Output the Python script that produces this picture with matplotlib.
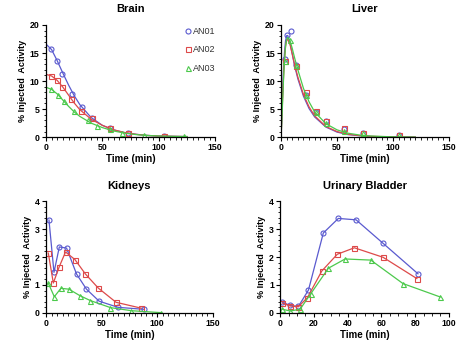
import numpy as np
import matplotlib
matplotlib.use("Agg")
import matplotlib.pyplot as plt
from matplotlib.ticker import MultipleLocator

plt.rcParams["font.family"] = ["Liberation Sans", "DejaVu Sans"]

# --- Colours / series names ---
names = ["AN01", "AN02", "AN03"]
colors = ["#5a5acf", "#dd4a4a", "#4cc94c"]
markers = ["o", "s", "^"]

# --- Brain: measured points ---
brain_t = [
    [4.4, 9.5, 14.5, 23.4, 32, 41, 57, 73, 105],
    [4.4, 9.5, 14.5, 22, 31, 41, 57, 73, 105],
    [4.4, 11, 16, 25, 37, 45, 57, 67, 87, 122],
]
brain_y = [
    [15.7, 13.5, 11.3, 7.7, 5.3, 3.5, 1.7, 0.8, 0.25],
    [10.9, 10.2, 8.9, 6.8, 4.7, 3.5, 1.6, 0.8, 0.25],
    [8.6, 7.6, 6.4, 4.6, 3.0, 2.0, 1.5, 0.7, 0.35, 0.15],
]
# Brain: fitted curves
brain_fit_t = [0, 5, 10, 15, 20, 25, 30, 40, 50, 60, 70, 80, 90, 100, 110, 125]
brain_fit_y = [
    [16.6, 15.6, 13.6, 11.4, 9.3, 7.4, 5.8, 3.5, 2.1, 1.3, 0.8, 0.5, 0.3, 0.2, 0.15, 0.1],
    [11.2, 10.9, 10.1, 8.9, 7.5, 6.1, 4.9, 3.2, 2.1, 1.3, 0.8, 0.5, 0.3, 0.2, 0.15, 0.1],
    [8.9, 8.5, 7.7, 6.6, 5.5, 4.5, 3.7, 2.5, 1.7, 1.1, 0.7, 0.45, 0.3, 0.2, 0.15, 0.1],
]

# --- Liver: measured points ---
liver_t = [
    [3.6, 5, 8.6, 13.4, 22, 31, 40, 56, 73, 105],
    [3.6, 13.4, 22, 31, 40, 56, 73, 105],
    [3.6, 8, 13.4, 22, 31, 40, 56, 73, 105],
]
liver_y = [
    [13.9, 18.2, 18.9, 12.9, 7.6, 4.5, 2.9, 1.5, 0.8, 0.3],
    [13.5, 12.7, 8.1, 4.6, 2.9, 1.7, 0.8, 0.3],
    [13.6, 17.3, 12.8, 7.5, 4.4, 2.6, 1.1, 0.7, 0.3],
]
liver_fit_t = [0, 1, 2, 3, 4, 5, 6, 8, 10, 12, 15, 20, 25, 30, 40, 50, 60, 70, 80, 100, 120]
liver_fit_y = [
    [0, 6, 11.5, 15, 17.2, 18.1, 18.1, 16.8, 14.8, 12.8, 10.4, 7.3, 5.1, 3.6, 1.8, 0.9, 0.45, 0.25, 0.12, 0.03, 0],
    [0, 5, 10, 13.8, 16.2, 17.3, 17.4, 16.5, 14.8, 13.0, 10.7, 7.6, 5.4, 3.8, 1.9, 1.0, 0.5, 0.28, 0.15, 0.04, 0],
    [0, 4.5, 9.5, 13.5, 16.2, 17.4, 17.8, 17.2, 15.8, 14.2, 12.0, 8.7, 6.3, 4.5, 2.4, 1.3, 0.7, 0.38, 0.2, 0.05, 0],
]

# --- Kidneys ---
kid_t = [
    [2.7, 7.2, 12, 18.5, 27.5, 36.4, 47.8, 64.8, 87.8],
    [2.1, 6.6, 12, 17.6, 26, 35.5, 47, 63, 85.7],
    [2.1, 7.5, 13.4, 20.6, 30.4, 40, 58, 76.7, 103.6],
]
kid_y = [
    [3.32, 1.45, 2.36, 2.32, 1.39, 0.85, 0.42, 0.2, 0.13],
    [2.14, 1.07, 1.66, 2.18, 1.91, 1.39, 0.89, 0.38, 0.17],
    [1.06, 0.58, 0.88, 0.85, 0.62, 0.44, 0.19, 0.08, 0.01],
]

# --- Urinary bladder ---
bl_t = [
    [1.4, 5.9, 10.8, 16.8, 25.6, 34.5, 45, 61, 81.7],
    [1.4, 5.9, 10.8, 16.2, 24.7, 33.9, 44, 61, 81],
    [1.4, 5.9, 11.8, 18.2, 28.6, 38.5, 53.7, 72.8, 94.9],
]
bl_y = [
    [0.38, 0.27, 0.23, 0.82, 2.86, 3.38, 3.33, 2.49, 1.40],
    [0.35, 0.25, 0.22, 0.55, 1.50, 2.10, 2.33, 1.99, 1.23],
    [0.13, 0.07, 0.13, 0.69, 1.60, 1.93, 1.89, 1.05, 0.57],
]

fig = plt.figure(figsize=(4.74, 3.42), dpi=100)
ax_brain = fig.add_axes([0.097, 0.599, 0.357, 0.328])
ax_liver = fig.add_axes([0.593, 0.599, 0.354, 0.328])
ax_kid = fig.add_axes([0.097, 0.085, 0.352, 0.327])
ax_bl = fig.add_axes([0.591, 0.085, 0.356, 0.327])

MS = 3.6
mkw = dict(markersize=MS, markerfacecolor="none", markeredgewidth=0.8, linestyle="none")


def style(ax, title, xmax, xmaj, xmin, ymax, ymaj, ymin):
    ax.set_xlim(0, xmax)
    ax.set_ylim(0, ymax)
    ax.xaxis.set_major_locator(MultipleLocator(xmaj))
    ax.xaxis.set_minor_locator(MultipleLocator(xmin))
    ax.yaxis.set_major_locator(MultipleLocator(ymaj))
    ax.yaxis.set_minor_locator(MultipleLocator(ymin))
    for s in ["top", "right"]:
        ax.spines[s].set_visible(False)
    for s in ["left", "bottom"]:
        ax.spines[s].set_linewidth(0.9)
    ax.tick_params(which="major", length=3, width=0.8, labelsize=6.3, pad=1.5)
    ax.tick_params(which="minor", length=1.8, width=0.6)
    for lab in ax.get_xticklabels() + ax.get_yticklabels():
        lab.set_fontweight("bold")
    ax.set_title(title, fontsize=8, fontweight="bold", pad=9)
    ax.set_xlabel("Time (min)", fontsize=7, fontweight="bold", labelpad=1)
    ax.set_ylabel("% Injected  Activity", fontsize=6.5, fontweight="bold", labelpad=2)


# Brain
for i in range(3):
    ax_brain.plot(brain_fit_t, brain_fit_y[i], color=colors[i], lw=0.9)
    ax_brain.plot(brain_t[i], brain_y[i], marker=markers[i], color=colors[i],
                  label=names[i], **mkw)
style(ax_brain, "Brain", 150, 50, 5, 20, 5, 1)
leg = ax_brain.legend(loc="upper right", bbox_to_anchor=(1.04, 1.04), frameon=False,
                      fontsize=6.5, handlelength=0.6, handletextpad=0.3,
                      labelspacing=1.05, borderpad=0.2)
for t in leg.get_texts():
    t.set_color("#333333")

# Liver
for i in range(3):
    ax_liver.plot(liver_fit_t, liver_fit_y[i], color=colors[i], lw=0.9)
    ax_liver.plot(liver_t[i], liver_y[i], marker=markers[i], color=colors[i], **mkw)
style(ax_liver, "Liver", 150, 50, 5, 20, 5, 1)

# Kidneys
for i in range(3):
    ax_kid.plot(kid_t[i], kid_y[i], marker=markers[i], color=colors[i], lw=0.9,
                markersize=MS, markerfacecolor="none", markeredgewidth=0.8)
style(ax_kid, "Kidneys", 150, 50, 5, 4, 1, 0.2)

# Urinary bladder
for i in range(3):
    ax_bl.plot(bl_t[i], bl_y[i], marker=markers[i], color=colors[i], lw=0.9,
               markersize=MS, markerfacecolor="none", markeredgewidth=0.8)
style(ax_bl, "Urinary Bladder", 100, 20, 5, 4, 1, 0.2)

fig.savefig("out.png", dpi=100)
